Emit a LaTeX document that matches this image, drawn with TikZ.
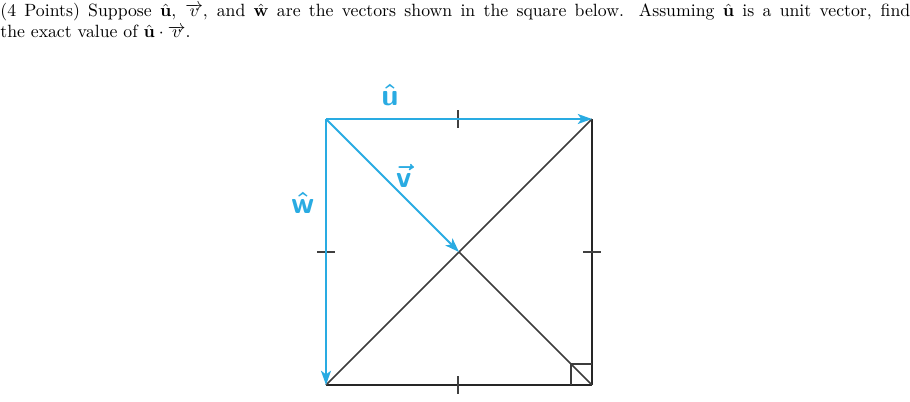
\documentclass[tikz,border=0pt]{standalone}
\usetikzlibrary{arrows.meta,positioning}
\definecolor{penblue}{RGB}{41,171,226}
\definecolor{edgegray}{RGB}{60,60,60}

\begin{document}
\begin{tikzpicture}[x=0.564pt,y=-0.564pt,
  vec/.style={penblue,line width=1.1pt,-{Stealth[length=8pt,width=5.6pt,inset=2pt]}},
  side/.style={black!85,line width=1.4pt},
  diag/.style={edgegray,line width=0.95pt},
  tick/.style={black!75,line width=0.75pt},
  hand/.style={penblue,font=\sffamily\bfseries\boldmath\LARGE}]
  \useasboundingbox (0,0) rectangle (910,401);

  % question text
  \node[anchor=north west,inner sep=0pt,text width=513.2pt,align=justify] (question) at (0,3)
    {(4 Points) Suppose $\hat{\mathbf{u}}$, $\overrightarrow{v}$, and $\hat{\mathbf{w}}$ are the vectors shown in the square below. Assuming $\hat{\mathbf{u}}$ is a unit vector, find\linebreak the exact value of $\hat{\mathbf{u}}\cdot\overrightarrow{v}$.};

  % corners of the square
  \coordinate (tl) at (326,119);
  \coordinate (tr) at (592,119);
  \coordinate (bl) at (326,385);
  \coordinate (br) at (592,385);
  \coordinate (c) at (459,252);

  % midpoints of the sides
  \coordinate (mt) at (458,119);
  \coordinate (ml) at (326,252);
  \coordinate (mr) at (592,252);
  \coordinate (mb) at (458,385);

  \path (bl) edge[side] (br)
        (tr) edge[side] (br);

  \path (bl) edge[diag] (tr)
        (c)  edge[diag] (br);

  % right angle mark
  \draw[diag,line width=0.8pt] (br) ++(-21,0) |- ++(21,-21);

  % tick marks
  \draw[tick] (mt) ++(0,-9) -- ++(0,18);
  \draw[tick] (mb) ++(0,-9) -- ++(0,18);
  \draw[tick] (ml) ++(-9,0) -- ++(18,0);
  \draw[tick] (mr) ++(-9,0) -- ++(18,0);

  \path (tl) edge[vec] (tr)
             edge[vec] (bl)
             edge[vec] (c);

  \node[hand] (ulab) at (390,95) {$\hat{\mathsf{u}}$};
  \node[hand] (vlab) at (404,176) {$\vec{\mathsf{v}}$};
  \node[hand] (wlab) at (303,203) {$\hat{\mathsf{w}}$};
\end{tikzpicture}
\end{document}
